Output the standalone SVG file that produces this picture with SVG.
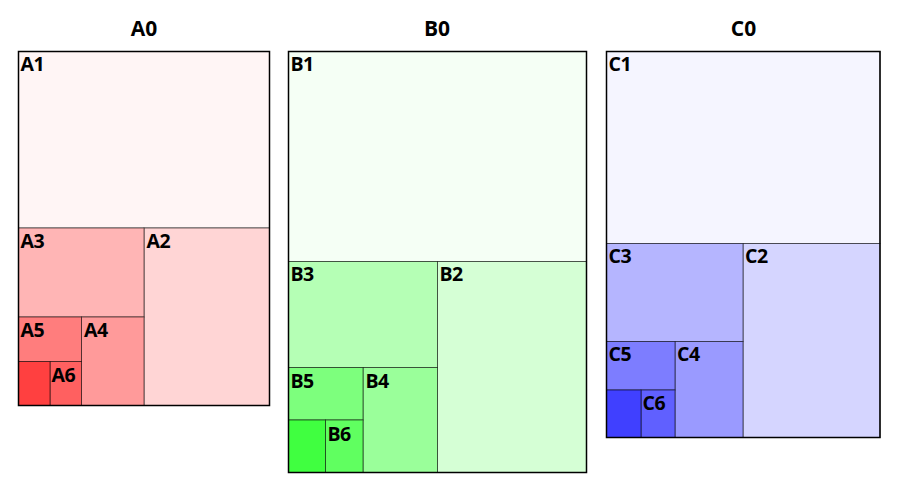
<svg xmlns="http://www.w3.org/2000/svg" width="900" height="500" viewBox="0 0 900 500">
<style>
text{font-family:"Open Sans","Noto Sans","Liberation Sans",sans-serif;font-weight:bold;fill:#000}
.t{font-size:21px;text-anchor:middle}
.l{font-size:19.5px;letter-spacing:-0.5px}
.c{stroke:#000;stroke-opacity:0.55;stroke-width:1}
.o{fill:none;stroke:#000;stroke-width:1.5}
</style>
<rect width="900" height="500" fill="#fff"/>
<g id="A0">
<text class="t" x="144" y="36">A0</text>
<g id="A1"><rect class="c" x="18.5" y="51.5" width="251" height="176.5" fill="#fff5f5"/><text class="l" x="20.5" y="71">A1</text></g>
<g id="A2"><rect class="c" x="144" y="228" width="125.5" height="177.5" fill="#ffd5d5"/><text class="l" x="146.5" y="248">A2</text></g>
<g id="A3"><rect class="c" x="18.5" y="228" width="125.5" height="89" fill="#ffb5b5"/><text class="l" x="20.5" y="248">A3</text></g>
<g id="A4"><rect class="c" x="81.5" y="317" width="62.5" height="88.5" fill="#ff9a9a"/><text class="l" x="84" y="337">A4</text></g>
<g id="A5"><rect class="c" x="18.5" y="317" width="63" height="44.5" fill="#ff7d7d"/><text class="l" x="20.5" y="337">A5</text></g>
<g id="A6"><rect class="c" x="50" y="361.5" width="31.5" height="44" fill="#ff6060"/><text class="l" x="51.5" y="382">A6</text></g>
<g id="A7"><rect class="c" x="18.5" y="361.5" width="31.5" height="44" fill="#ff4040"/></g>
<rect class="o" x="18.5" y="51.5" width="251" height="354"/>
</g>
<g id="B0">
<text class="t" x="437" y="36">B0</text>
<g id="B1"><rect class="c" x="288.5" y="51.5" width="298" height="210" fill="#f5fff5"/><text class="l" x="290.5" y="71">B1</text></g>
<g id="B2"><rect class="c" x="437.5" y="261.5" width="149" height="211" fill="#d5ffd5"/><text class="l" x="439.5" y="281">B2</text></g>
<g id="B3"><rect class="c" x="288.5" y="261.5" width="149" height="106" fill="#b5ffb5"/><text class="l" x="290.5" y="281">B3</text></g>
<g id="B4"><rect class="c" x="363" y="367.5" width="74.5" height="105" fill="#9aff9a"/><text class="l" x="365.5" y="387.5">B4</text></g>
<g id="B5"><rect class="c" x="288.5" y="367.5" width="74.5" height="52.5" fill="#7dff7d"/><text class="l" x="290.5" y="387.5">B5</text></g>
<g id="B6"><rect class="c" x="325.5" y="420" width="37.5" height="52.5" fill="#60ff60"/><text class="l" x="327.5" y="440.5">B6</text></g>
<g id="B7"><rect class="c" x="288.5" y="420" width="37" height="52.5" fill="#40ff40"/></g>
<rect class="o" x="288.5" y="51.5" width="298" height="421"/>
</g>
<g id="C0">
<text class="t" x="743.5" y="36">C0</text>
<g id="C1"><rect class="c" x="606.5" y="51.5" width="273.5" height="192" fill="#f5f5ff"/><text class="l" x="608.5" y="71">C1</text></g>
<g id="C2"><rect class="c" x="743" y="243.5" width="137" height="194" fill="#d5d5ff"/><text class="l" x="745" y="263">C2</text></g>
<g id="C3"><rect class="c" x="606.5" y="243.5" width="136.5" height="98" fill="#b5b5ff"/><text class="l" x="608.5" y="263">C3</text></g>
<g id="C4"><rect class="c" x="675" y="341.5" width="68" height="96" fill="#9a9aff"/><text class="l" x="677" y="361">C4</text></g>
<g id="C5"><rect class="c" x="606.5" y="341.5" width="68.5" height="48.5" fill="#7d7dff"/><text class="l" x="608.5" y="361">C5</text></g>
<g id="C6"><rect class="c" x="641" y="390" width="34" height="47.5" fill="#6060ff"/><text class="l" x="642.5" y="410">C6</text></g>
<g id="C7"><rect class="c" x="606.5" y="390" width="34.5" height="47.5" fill="#4040ff"/></g>
<rect class="o" x="606.5" y="51.5" width="273.5" height="386"/>
</g>
</svg>
